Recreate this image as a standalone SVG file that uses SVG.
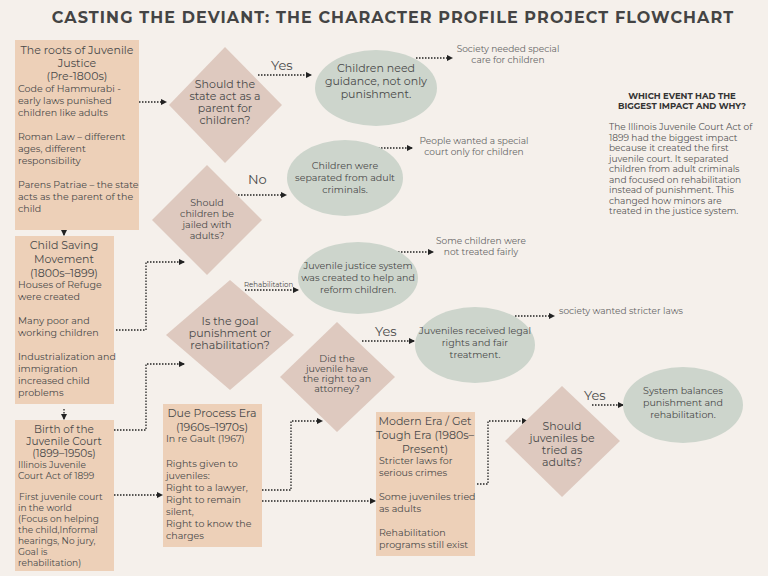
<svg xmlns="http://www.w3.org/2000/svg" width="768" height="576" viewBox="0 0 768 576">
<defs>
<style>
text{font-family:"Montserrat","Lato","Open Sans",sans-serif;fill:#4a4a4a}
.box{fill:#edd0b8}
.dia{fill:#dec9bf}
.ell{fill:#cdd5cc}
.c{stroke:#222;stroke-width:1.3;stroke-dasharray:1.5 1.5;fill:none;marker-end:url(#a)}
.t{font-size:9.5px}
.h{font-size:11px}
.s{font-size:9px;fill:#666}
</style>
<marker id="a" viewBox="0 0 6 6" refX="5" refY="3" markerWidth="5" markerHeight="5" orient="auto"><path d="M0,0L6,3L0,6z" fill="#222"/></marker>
</defs>
<rect width="768" height="576" fill="#f5f0eb"/>
<text x="393" y="23" text-anchor="middle" style="font-size:16px;font-weight:bold;letter-spacing:1.1px;fill:#444">CASTING THE DEVIANT: THE CHARACTER PROFILE PROJECT FLOWCHART</text>

<g id="connectors">
<path class="c" d="M139,102H166"/>
<path class="c" d="M258,75H311"/>
<path class="c" d="M416,58H452"/>
<path class="c" d="M64,222V235"/>
<path class="c" d="M116,330H146V262H184"/>
<path class="c" d="M232,195H286"/>
<path class="c" d="M372,148H412"/>
<path class="c" d="M245,290H298"/>
<path class="c" d="M395,252H433"/>
<path class="c" d="M515,316H554"/>
<path class="c" d="M64,409V419"/>
<path class="c" d="M114,430H146V364H184"/>
<path class="c" d="M114,495H162"/>
<path class="c" d="M262,490H291V421H322"/>
<path class="c" d="M262,501H375"/>
<path class="c" d="M362,341H414"/>
<path class="c" d="M477,484H488V421H527"/>
<path class="c" d="M592,405H623"/>
<text x="271" y="70" style="font-size:13px">Yes</text>
<text x="248" y="184" style="font-size:13px">No</text>
<text x="244" y="287" style="font-size:7px">Rehabilitation</text>
<text x="375" y="336" style="font-size:13px">Yes</text>
<text x="584" y="400" style="font-size:13px">Yes</text>
</g>

<g id="n1"><rect class="box" x="15" y="40" width="124" height="190"/>
<text class="h" text-anchor="middle"><tspan x="77" y="54">The roots of Juvenile</tspan><tspan x="77" y="67">Justice</tspan><tspan x="77" y="80">(Pre-1800s)</tspan></text>
<text class="t"><tspan x="18" y="92">Code of Hammurabi -</tspan><tspan x="18" y="104">early laws punished</tspan><tspan x="18" y="116">children like adults</tspan><tspan x="18" y="140">Roman Law – different</tspan><tspan x="18" y="152">ages, different</tspan><tspan x="18" y="164">responsibility</tspan><tspan x="18" y="188">Parens Patriae – the state</tspan><tspan x="18" y="200">acts as the parent of the</tspan><tspan x="18" y="212">child</tspan></text></g>

<g id="n2"><rect class="box" x="15" y="236" width="99" height="168"/>
<text class="h" text-anchor="middle"><tspan x="64" y="249">Child Saving</tspan><tspan x="64" y="263">Movement</tspan><tspan x="64" y="277">(1800s–1899)</tspan></text>
<text class="t"><tspan x="18" y="288">Houses of Refuge</tspan><tspan x="18" y="300">were created</tspan><tspan x="18" y="324">Many poor and</tspan><tspan x="18" y="336">working children</tspan><tspan x="18" y="360">Industrialization and</tspan><tspan x="18" y="372">immigration</tspan><tspan x="18" y="384">increased child</tspan><tspan x="18" y="396">problems</tspan></text></g>

<g id="n3"><rect class="box" x="15" y="420" width="99" height="151"/>
<text text-anchor="middle" style="font-size:10.5px"><tspan x="64" y="433">Birth of the</tspan><tspan x="64" y="445">Juvenile Court</tspan><tspan x="64" y="457">(1899–1950s)</tspan></text>
<text class="t" style="font-size:9px"><tspan x="18" y="468">Illinois Juvenile</tspan><tspan x="18" y="479">Court Act of 1899</tspan><tspan x="19" y="500">First juvenile court</tspan><tspan x="18" y="511">in the world</tspan><tspan x="18" y="522">(Focus on helping</tspan><tspan x="18" y="533">the child,Informal</tspan><tspan x="18" y="544">hearings, No jury,</tspan><tspan x="18" y="555">Goal is</tspan><tspan x="18" y="566">rehabilitation)</tspan></text></g>

<g id="n4"><rect class="box" x="163" y="404" width="99" height="143"/>
<text class="h" text-anchor="middle"><tspan x="212" y="417">Due Process Era</tspan><tspan x="212" y="431">(1960s–1970s)</tspan></text>
<text class="t"><tspan x="166" y="442">In re Gault (1967)</tspan><tspan x="166" y="467">Rights given to</tspan><tspan x="166" y="479">juveniles:</tspan><tspan x="166" y="491">Right to a lawyer,</tspan><tspan x="166" y="503">Right to remain</tspan><tspan x="166" y="515">silent,</tspan><tspan x="166" y="527">Right to know the</tspan><tspan x="166" y="539">charges</tspan></text></g>

<g id="n5"><rect class="box" x="376" y="412" width="99" height="144"/>
<text class="h" text-anchor="middle"><tspan x="425" y="425">Modern Era / Get</tspan><tspan x="425" y="439">Tough Era (1980s–</tspan><tspan x="425" y="453">Present)</tspan></text>
<text class="t"><tspan x="379" y="464">Stricter laws for</tspan><tspan x="379" y="476">serious crimes</tspan><tspan x="379" y="500">Some juveniles tried</tspan><tspan x="379" y="512">as adults</tspan><tspan x="379" y="536">Rehabilitation</tspan><tspan x="379" y="548">programs still exist</tspan></text></g>

<g id="d1"><path class="dia" d="M225,47L282,105L225,163L169,105z"/>
<text class="h" text-anchor="middle"><tspan x="225" y="88">Should the</tspan><tspan x="225" y="100">state act as a</tspan><tspan x="225" y="112">parent for</tspan><tspan x="225" y="124">children?</tspan></text></g>

<g id="d2"><path class="dia" d="M207,165L262,220L207,275L152,220z"/>
<text class="t" text-anchor="middle"><tspan x="207" y="206">Should</tspan><tspan x="207" y="217">children be</tspan><tspan x="207" y="228">jailed with</tspan><tspan x="207" y="239">adults?</tspan></text></g>

<g id="d3"><path class="dia" d="M230,280L294,335L230,390L166,335z"/>
<text class="h" text-anchor="middle"><tspan x="230" y="325">Is the goal</tspan><tspan x="230" y="337">punishment or</tspan><tspan x="230" y="349">rehabilitation?</tspan></text></g>

<g id="d4"><path class="dia" d="M337,322L395,377L337,432L280,377z"/>
<text class="t" text-anchor="middle"><tspan x="337" y="362">Did the</tspan><tspan x="337" y="372">juvenile have</tspan><tspan x="337" y="382">the right to an</tspan><tspan x="337" y="392">attorney?</tspan></text></g>

<g id="d5"><path class="dia" d="M562,386L620,441L562,497L505,441z"/>
<text class="h" text-anchor="middle"><tspan x="562" y="430">Should</tspan><tspan x="562" y="442">juveniles be</tspan><tspan x="562" y="454">tried as</tspan><tspan x="562" y="466">adults?</tspan></text></g>

<g id="e1"><ellipse class="ell" cx="376" cy="88" rx="61" ry="38"/>
<text class="h" text-anchor="middle"><tspan x="376" y="72">Children need</tspan><tspan x="376" y="85">guidance, not only</tspan><tspan x="376" y="98">punishment.</tspan></text></g>

<g id="e2"><ellipse class="ell" cx="345" cy="178" rx="58" ry="38"/>
<text class="t" text-anchor="middle"><tspan x="345" y="169">Children were</tspan><tspan x="345" y="181">separated from adult</tspan><tspan x="345" y="193">criminals.</tspan></text></g>

<g id="e3"><ellipse class="ell" cx="358" cy="278" rx="60" ry="36"/>
<text class="t" text-anchor="middle"><tspan x="358" y="269">Juvenile justice system</tspan><tspan x="358" y="281">was created to help and</tspan><tspan x="358" y="293">reform children.</tspan></text></g>

<g id="e4"><ellipse class="ell" cx="475" cy="345" rx="60" ry="38"/>
<text class="t" text-anchor="middle"><tspan x="475" y="334">Juveniles received legal</tspan><tspan x="475" y="346">rights and fair</tspan><tspan x="475" y="358">treatment.</tspan></text></g>

<g id="e5"><ellipse class="ell" cx="683" cy="405" rx="60" ry="38"/>
<text class="t" text-anchor="middle"><tspan x="683" y="394">System balances</tspan><tspan x="683" y="406">punishment and</tspan><tspan x="683" y="418">rehabilitation.</tspan></text></g>

<g id="notes">
<text class="s" text-anchor="middle"><tspan x="508" y="52">Society needed special</tspan><tspan x="508" y="63">care for children</tspan></text>
<text class="s" text-anchor="middle"><tspan x="474" y="144">People wanted a special</tspan><tspan x="474" y="155">court only for children</tspan></text>
<text class="s" text-anchor="middle"><tspan x="481" y="244">Some children were</tspan><tspan x="481" y="255">not treated fairly</tspan></text>
<text class="s" x="559" y="314">society wanted stricter laws</text>
<text text-anchor="middle" style="font-size:8.5px;font-weight:bold;fill:#333"><tspan x="682" y="99">WHICH EVENT HAD THE</tspan><tspan x="682" y="109">BIGGEST IMPACT AND WHY?</tspan></text>
<text style="font-size:9px;fill:#555"><tspan x="609" y="130">The Illinois Juvenile Court Act of</tspan><tspan x="609" y="140.5">1899 had the biggest impact</tspan><tspan x="609" y="151">because it created the first</tspan><tspan x="609" y="161.5">juvenile court. It separated</tspan><tspan x="609" y="172">children from adult criminals</tspan><tspan x="609" y="182.5">and focused on rehabilitation</tspan><tspan x="609" y="193">instead of punishment. This</tspan><tspan x="609" y="203.5">changed how minors are</tspan><tspan x="609" y="214">treated in the justice system.</tspan></text>
</g>
</svg>
